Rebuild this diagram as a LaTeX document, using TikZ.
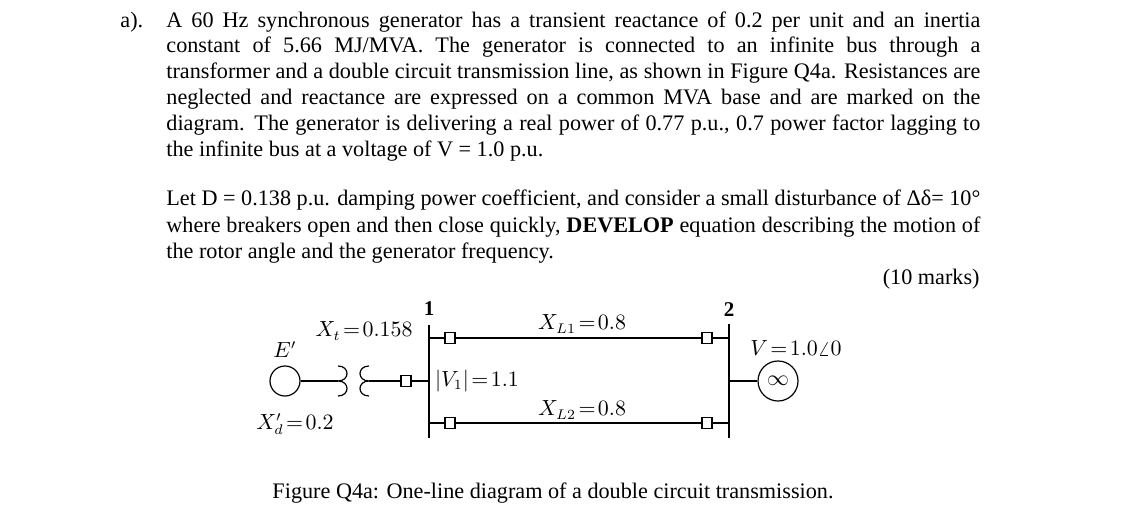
\documentclass[tikz,border=0pt]{standalone}
\usepackage{fontspec}
\setmainfont{Liberation Serif}
\begin{document}
\begin{tikzpicture}[x=0.5pt,y=-0.5pt,font=\fontsize{11.1}{13}\selectfont,
  ln/.style={anchor=west,inner sep=0pt},
  brk/.style={draw,line width=0.6pt,minimum width=5pt,minimum height=5.5pt,inner sep=0pt},
  wire/.style={line width=0.6pt},
  lbl/.style={inner sep=0pt,font=\fontsize{10.5}{12}\selectfont}]
\useasboundingbox (0,0) rectangle (1125,520);
\newcommand{\jl}[1]{\makebox[407pt][s]{#1}}
\node[ln] (a) at (120,22) {a).};
\node[ln] (l1) at (166,22) {\jl{A 60 Hz synchronous generator has a transient reactance of 0.2 per unit and an inertia}};
\node[ln] (l2) at (166,47) {\jl{constant of 5.66 MJ/MVA. The generator is connected to an infinite bus through a}};
\node[ln] (l3) at (166,73) {\jl{transformer and a double circuit transmission line, as shown in Figure Q4a. Resistances are}};
\node[ln] (l4) at (166,99) {\jl{neglected and reactance are expressed on a common MVA base and are marked on the}};
\node[ln] (l5) at (166,125) {\jl{diagram. The generator is delivering a real power of 0.77 p.u., 0.7 power factor lagging to}};
\node[ln] (l6) at (166,151) {the infinite bus at a voltage of V = 1.0 p.u.};
\node[ln] (m1) at (166,200) {\jl{Let D = 0.138 p.u. damping power coefficient, and consider a small disturbance of Δδ= 10°}};
\node[ln] (m2) at (166,227) {\jl{where breakers open and then close quickly, \textbf{DEVELOP} equation describing the motion of}};
\node[ln] (m3) at (166,253) {the rotor angle and the generator frequency.};
\node[anchor=east,inner sep=0pt] (mk) at (980,279) {(10 marks)};
% diagram
\node[draw,circle,line width=0.6pt,minimum size=15pt,inner sep=0pt] (g) at (285,381) {};
\coordinate (t1) at (338,381);
\coordinate (t2) at (369,381);
\draw[wire] (g) -- (t1);
\draw[wire] (338,366) .. controls (350,366) and (350,381) .. (338,381)
  .. controls (350,381) and (350,396) .. (338,396);
\draw[wire] (369,366) .. controls (357,366) and (357,381) .. (369,381)
  .. controls (357,381) and (357,396) .. (369,396);
\node[brk] (b0) at (406,381) {};
\draw[wire] (t2) -- (b0);
\coordinate (bus1t) at (429,325); \coordinate (bus1b) at (429,438);
\draw[wire] (bus1t) -- (bus1b);
\draw[wire] (b0) -- (429,381);
\node[brk] (b1) at (450,338) {};
\node[brk] (b2) at (450,423) {};
\node[brk] (b3) at (707,338) {};
\node[brk] (b4) at (707,423) {};
\draw[wire] (429,338) -- (b1) -- (b3) -- (729,338);
\draw[wire] (429,423) -- (b2) -- (b4) -- (729,423);
\coordinate (bus2t) at (729,324); \coordinate (bus2b) at (729,438);
\draw[wire] (bus2t) -- (bus2b);
\node[draw,circle,line width=0.6pt,minimum size=20pt,inner sep=0pt] (inf) at (778,381) {$\infty$};
\draw[wire] (729,381) -- (inf);
\node[lbl] (n1) at (429,309) {\textbf{1}};
\node[lbl] (n2) at (729,310) {\textbf{2}};
\node[lbl] (ep) at (285,350) {$E'$};
\node[lbl] (xt) at (364,331) {$X_t\!=\!0.158$};
\node[lbl] (xd) at (295,424) {$X_d'\!=\!0.2$};
\node[lbl] (v1) at (477,381) {$|V_1|\!=\!1.1$};
\node[lbl] (xl1) at (582,324) {$X_{L1}\!=\!0.8$};
\node[lbl] (xl2) at (582,410) {$X_{L2}\!=\!0.8$};
\node[lbl] (vv) at (796,348) {$V\!=\!1.0\angle 0$};
\node[inner sep=0pt] (cap) at (553,493) {Figure Q4a: One-line diagram of a double circuit transmission.};
\end{tikzpicture}
\end{document}
